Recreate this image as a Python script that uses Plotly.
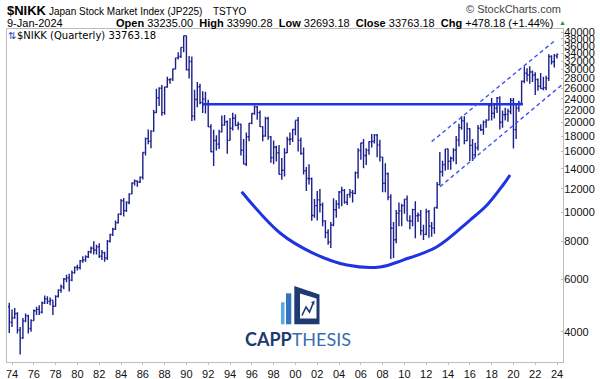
import math
import pandas as pd
import plotly.graph_objects as go

# ---------------- data (quarterly, 1973Q4 .. 2024Q1) ----------------
high = [5000, 4750, 4800, 4650, 4150, 4450, 4600, 4560, 4400, 4750, 4850, 4900, 5050,
        5290, 5250, 5200, 5100, 5300, 5550, 5750, 6050, 6200, 6250, 6400, 6600,
        6700, 6950, 7150, 7200, 7450, 7700, 8019, 7800, 7900, 7500, 7400, 8100,
        8500, 8900, 9400, 9900, 11100, 11190, 10900, 11600, 12600, 12900, 12800, 13200,
        15900, 17800, 18936, 18820, 22000, 25900, 26200, 26646, 26300, 28400, 28100, 30200,
        32900, 34300, 35600, 38957, 38950, 33300, 33200, 25700, 27270, 26900, 25400, 25300,
        23800, 19700, 18900, 18100, 18900, 21100, 21148, 20300, 20700, 21552, 21300, 20100,
        19800, 17600, 18500, 19900, 21500, 22750, 22700, 21900, 19400, 20900, 20900, 18000,
        17400, 16700, 16800, 15200, 16400, 17900, 18500, 19000, 20300, 20833, 17800, 16500,
        14200, 14500, 13100, 11100, 11800, 11980, 10800, 9420, 8800, 9300, 11160, 11000,
        11800, 12200, 11990, 11500, 11990, 11900, 13700, 16400, 17100, 17600, 16400, 17300,
        18300, 18300, 18300, 17500, 15350, 14600, 13600, 11500, 9300, 10200, 10800, 10700,
        11100, 11400, 9800, 10300, 10900, 10000, 10200, 9100, 10300, 10200, 9300, 10400,
        12650, 15942, 14900, 16300, 16320, 15400, 16400, 18000, 19800, 20952, 20950, 20000,
        19100, 17600, 17100, 19600, 19700, 20300, 20500, 23000, 24129, 23000, 24300, 24448,
        21900, 22400, 22200, 24100, 24100, 23200, 23600, 27600, 30714, 30300, 30800, 29800,
        29400, 28000, 29222, 28400, 28600, 33772, 33500, 33853, 33990.28]
low = [3960, 4150, 4420, 3950, 3355, 3780, 4300, 3950, 4000, 4350, 4550, 4550, 4600,
       4950, 4950, 4900, 4550, 4850, 5200, 5400, 5550, 5850, 5450, 5900, 6250,
       6400, 6450, 6800, 6850, 7050, 7300, 7250, 7250, 7050, 6950, 6850, 6950,
       7950, 8350, 8750, 9200, 9800, 9700, 10050, 10650, 11500, 12300, 12200, 12550,
       12900, 15500, 16900, 16400, 18600, 21500, 22700, 21036, 21200, 26100, 26900, 27500,
       30100, 32400, 32800, 34300, 29800, 28000, 20221, 20300, 22450, 23000, 21500, 21400,
       19300, 15900, 14309, 16100, 16300, 18500, 19500, 15700, 17400, 18800, 19400, 18900,
       15500, 14485, 14300, 17300, 19700, 21200, 20400, 19300, 17300, 17900, 17500, 14664,
       14500, 14800, 13400, 12880, 13200, 15800, 16800, 17200, 18100, 16000, 15600, 13400,
       11800, 12400, 9382, 9600, 9400, 10000, 9000, 8200, 7800, 7608, 9000, 9600,
       10300, 10500, 10700, 10600, 11200, 10800, 11500, 13000, 15000, 14050, 14400, 15600,
       16500, 17000, 15300, 14800, 11700, 11700, 11000, 6994, 7054, 7900, 9000, 9000,
       9900, 9400, 8800, 9000, 8200, 9300, 8400, 8100, 8400, 8238, 8300, 8500,
       10300, 12300, 13200, 13800, 13900, 13900, 14800, 14500, 16600, 18900, 16900, 17300,
       14865, 14864, 15300, 16100, 18700, 18200, 19200, 20300, 20300, 20600, 21500, 18948,
       19200, 20300, 20100, 21300, 16358, 17600, 21700, 22900, 27000, 27400, 26900, 27300,
       24681, 25500, 25900, 25600, 25600, 27500, 31200, 30500, 32693.18]
close = [4306, 4450, 4600, 4050, 3817, 4350, 4520, 4100, 4358, 4700, 4750, 4650, 4990,
         5150, 5050, 5100, 4866, 5250, 5500, 5650, 6001, 6050, 5950, 6300, 6569,
         6550, 6900, 6950, 7116, 7400, 7600, 7500, 7681, 7150, 7350, 7050, 8016,
         8450, 8800, 9250, 9893, 10950, 10150, 10800, 11542, 12550, 12750, 12650, 13113,
         15860, 17650, 17300, 18701, 21566, 24176, 26010, 21564, 26260, 27770, 27900, 30159,
         32839, 33200, 35600, 38916, 29980, 31940, 20984, 23849, 26292, 23290, 23916, 22984,
         19346, 15952, 17399, 16925, 18591, 19590, 20106, 17417, 19112, 20644, 19564, 19723,
         16140, 14517, 17913, 19868, 21407, 22530, 21556, 19361, 18003, 20605, 17888, 15259,
         16527, 15830, 13406, 13842, 15837, 17530, 17605, 18934, 20337, 17411, 15747, 13786,
         12999, 12969, 9775, 10543, 11025, 10622, 9383, 8579, 7973, 9083, 10219, 10677,
         11715, 11859, 10824, 11489, 11668, 11584, 13574, 16111, 17059, 15505, 16128, 17226,
         17288, 18138, 16786, 15308, 12526, 13481, 11260, 8860, 8110, 9958, 10133, 10546,
         11090, 9383, 9369, 10229, 9755, 9816, 8700, 8455, 10084, 9007, 8870, 10395,
         12398, 13677, 14456, 16291, 14828, 15162, 16174, 17451, 19207, 20236, 17388, 19034,
         16759, 15576, 16450, 19114, 18909, 20033, 20356, 22765, 21454, 22305, 24120, 20015,
         21206, 21276, 21756, 23657, 18917, 22288, 23185, 27444, 29179, 28792, 29453, 28792,
         27821, 26393, 25937, 26095, 28041, 33189, 31858, 33464, 33763.18]
FIRST_OPEN = 4850
LAST_OPEN = 33235.00
open_ = [FIRST_OPEN] + close[:-2] + [LAST_OPEN]

dates = pd.date_range("1973-10-01", periods=len(close), freq="QS")

# overlays (annotation drawings)
level_x = ["1991-07-08", "2020-11-15"]
level_y = [23000, 23000]
cup_x = ["1995-01-25", "1998-08-04", "2001-08-10", "2004-09-24", "2007-10-05", "2009-11-13",
         "2012-12-27", "2016-01-08", "2017-07-31", "2019-01-18", "2019-09-09"]
cup_y = [11740, 8545, 7325, 6680, 6580, 6940, 7690, 9440, 10600, 12360, 13350]
chan_up_x = ["2012-07-01", "2023-10-27"]
chan_up_y = [17250, 37550]
chan_lo_x = ["2013-04-08", "2024-07-19"]
chan_lo_y = [12200, 26880]

ytick_vals = [4000, 6000, 8000, 10000, 12000, 14000, 16000, 18000, 20000, 22000, 24000,
              26000, 28000, 30000, 32000, 34000, 36000, 38000, 40000]
xtick_years = list(range(1974, 2025, 2))

# ---------------- figure ----------------
W, H = 600, 379
L, R, T, B = 7, 563, 29, 362

def px(x):
    return (x - L) / (R - L)

def py(y):
    return (B - y) / (B - T)

BAR = "#1b1f8c"
BLUE = "#1f33e6"
fig = go.Figure()
fig.add_trace(go.Ohlc(x=dates, open=open_, high=high, low=low, close=close,
                      increasing=dict(line=dict(color=BAR, width=1.4)),
                      decreasing=dict(line=dict(color=BAR, width=1.4)),
                      tickwidth=0.45, hoverinfo="skip"))
fig.add_trace(go.Scatter(x=level_x, y=level_y, mode="lines",
                         line=dict(color=BLUE, width=2.6), hoverinfo="skip"))
fig.add_trace(go.Scatter(x=cup_x, y=cup_y, mode="lines",
                         line=dict(color=BLUE, width=3, shape="spline"), hoverinfo="skip"))
for cx, cy in ((chan_up_x, chan_up_y), (chan_lo_x, chan_lo_y)):
    fig.add_trace(go.Scatter(x=cx, y=cy, mode="lines",
                             line=dict(color="#3d55f0", width=1.4, dash="4px,3px"),
                             hoverinfo="skip"))

FONT = "Liberation Sans"
fig.update_layout(
    width=W, height=H, margin=dict(l=L, r=W - R, t=T, b=H - B, autoexpand=False),
    paper_bgcolor="white", plot_bgcolor="white", showlegend=False,
    font=dict(family=FONT, size=11, color="#111"),
    xaxis=dict(type="date", range=["1973-07-17", "2024-07-19"],
               tickvals=[f"{y}-01-01" for y in xtick_years],
               ticktext=[f"{y % 100:02d}" for y in xtick_years],
               showgrid=False, zeroline=False, showline=True, linecolor="#bdbdbd",
               linewidth=1, mirror=True, ticks="outside", ticklen=2, tickcolor="#bdbdbd",
               tickfont=dict(family=FONT, size=11, color="#111"), automargin=False,
               rangeslider=dict(visible=False), fixedrange=True),
    yaxis=dict(type="log", side="right",
               range=[math.log10(3170), math.log10(41000)],
               tickvals=ytick_vals, ticktext=[str(v) for v in ytick_vals],
               showgrid=False, zeroline=False, showline=True, linecolor="#bdbdbd",
               linewidth=1, mirror=True, ticks="inside", ticklen=2, tickcolor="#bdbdbd",
               ticklabelstandoff=-2,
               tickfont=dict(family=FONT, size=11, color="#111"), automargin=False,
               fixedrange=True),
)

ann = []
def text(x, y, s, size=11, color="#000", xanchor="left", family=FONT):
    ann.append(dict(x=px(x), y=py(y), xref="paper", yref="paper", text=s, showarrow=False,
                    xanchor=xanchor, yanchor="middle", align="left",
                    font=dict(family=family, size=size, color=color)))

text(5, 10, "<b>$NIKK</b>", size=13)
text(47, 11, "Japan Stock Market Index (JP225)", size=10)
text(211, 11, "TSTYO", size=10)
text(5, 23, "9-Jan-2024", size=11)
text(555, 23, "<b>Open</b> 33235.00  <b>High</b> 33990.28  <b>Low</b> 32693.18  "
              "<b>Close</b> 33763.18  <b>Chg</b> +478.18 (+1.44%)", size=11, xanchor="right")
text(557, 23, "▲", size=7, color="#2e8b3a")
text(563, 9, "© StockCharts.com", size=11, color="#444", xanchor="right")
text(6, 36, "⇅", size=10, color="#2a3fbf")
text(15, 36, "$NIKK (Quarterly) 33763.18", size=10, family="DejaVu Sans")
text(298, 338.5, "<b>CAPP</b><span style='color:#3b6cb0'>THESIS</span>", size=18,
     color="#1e3a70", xanchor="center", family="Lato")
fig.update_layout(annotations=ann)

shapes = []
def poly(pts, fill, line=None, width=0):
    d = "M " + " L ".join(f"{px(a):.5f},{py(b):.5f}" for a, b in pts) + " Z"
    shapes.append(dict(type="path", path=d, xref="paper", yref="paper",
                       fillcolor=fill, line=dict(color=line or fill, width=width)))

poly([(281, 302.3), (284.5, 302.3), (284.5, 324.3), (281, 324.3)], "#5aaae0")
poly([(286, 293.3), (291.3, 293.3), (291.3, 324.3), (286, 324.3)], "#3575c0")
poly([(294.3, 286), (319.5, 294.5), (319.5, 324.3), (294.3, 324.3)], "#1e3a70")
poly([(300, 293.5), (316.5, 298.5), (316.5, 318.5), (300, 318.5)], "#ffffff")
arrow = [(302, 315.5), (306, 307), (309.5, 312), (313, 303.5)]
shapes.append(dict(type="path", xref="paper", yref="paper",
                   path="M " + " L ".join(f"{px(a):.5f},{py(b):.5f}" for a, b in arrow),
                   line=dict(color="#1e3a70", width=1.6)))
poly([(314.5, 300.5), (311, 302.5), (314.2, 305)], "#1e3a70")
fig.update_layout(shapes=shapes)

fig.write_html("out.html", include_plotlyjs=True, config={"displayModeBar": False},
               post_script="document.body.style.margin='0';document.body.style.overflow='hidden';")
